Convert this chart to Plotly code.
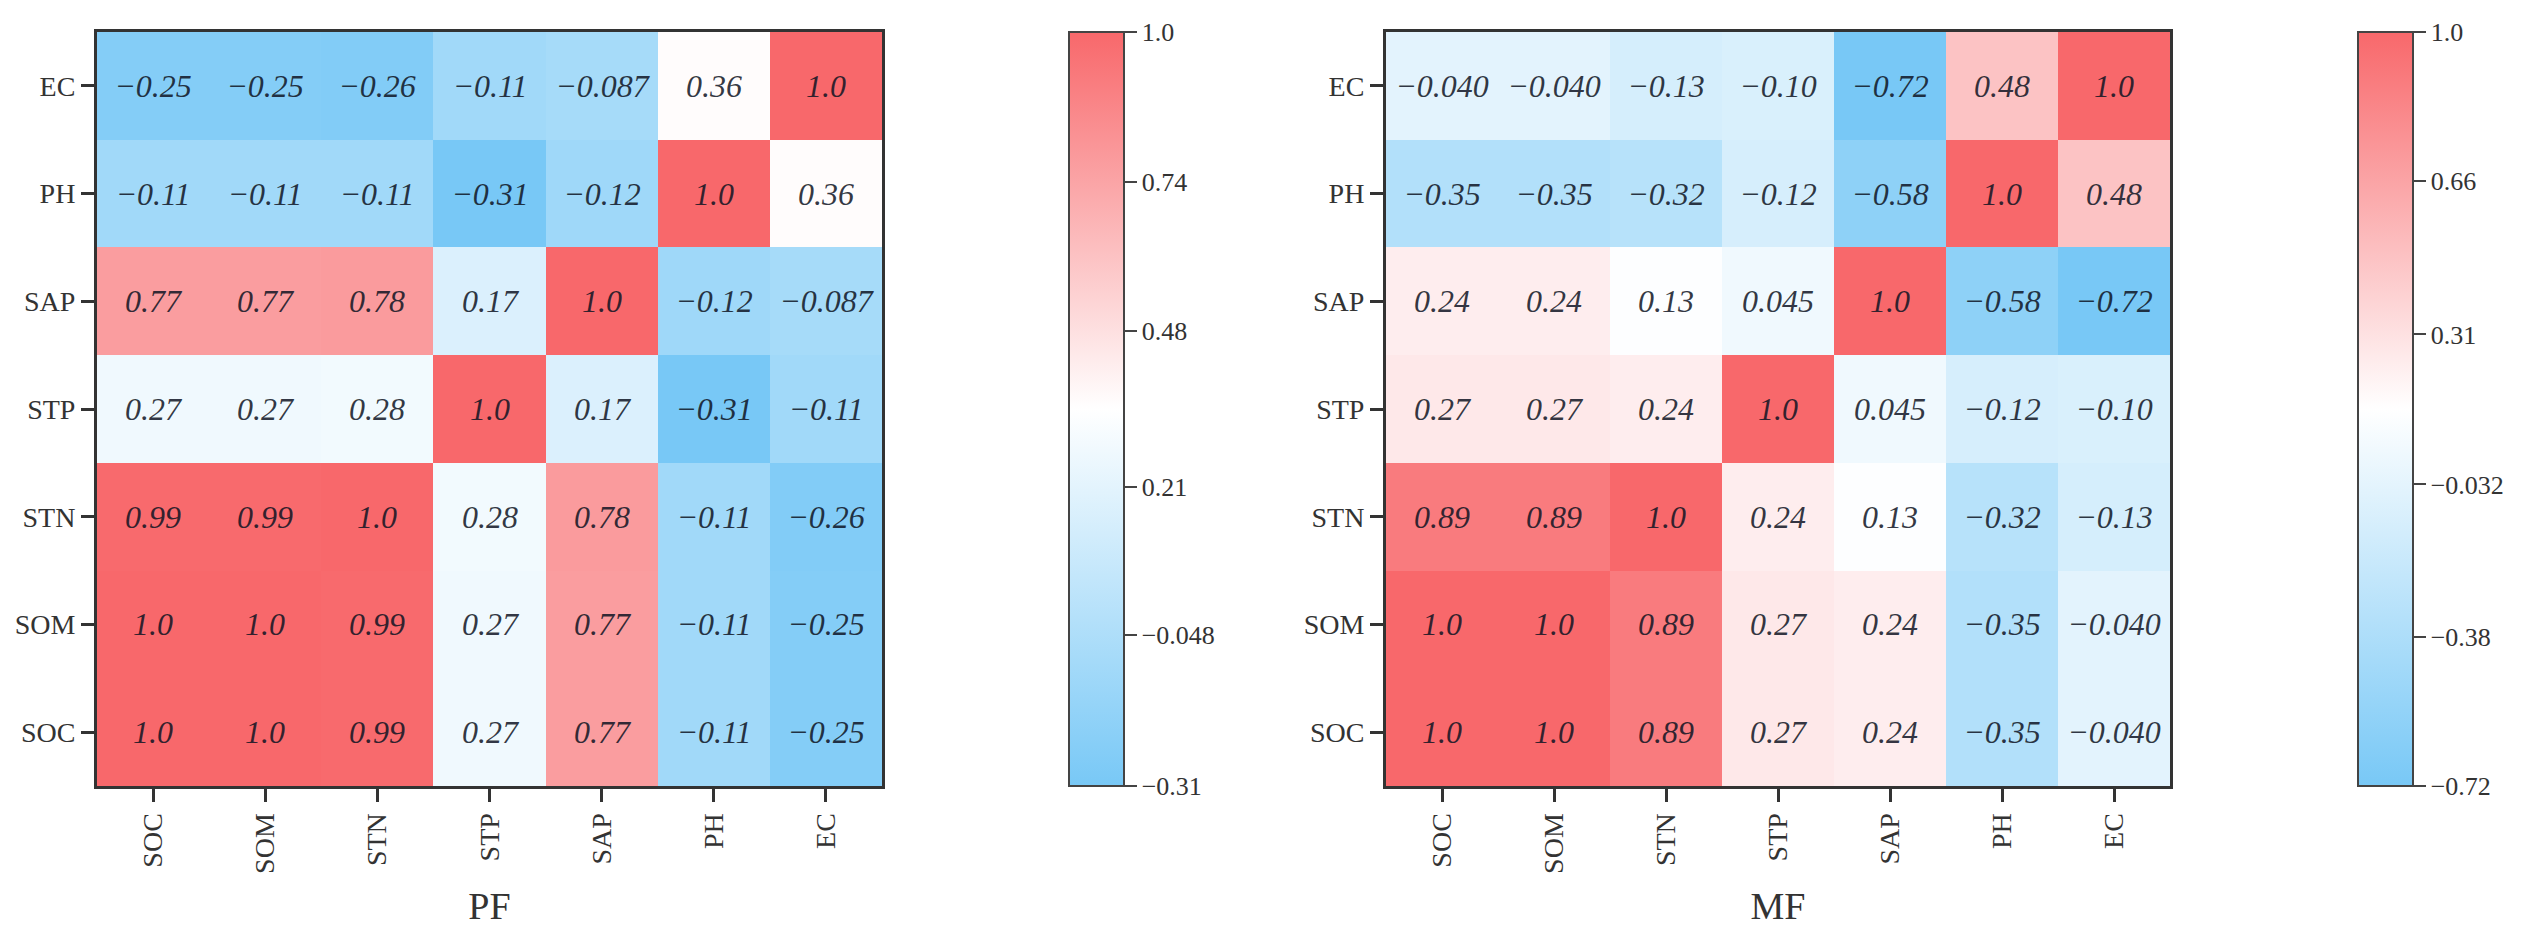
import plotly.graph_objects as go

# variables, listed bottom-to-top on y and left-to-right on x
variables = ["SOC", "SOM", "STN", "STP", "SAP", "PH", "EC"]

# PF correlation matrix (rows follow `variables`)
pf_soc = [1.0, 1.0, 0.99, 0.27, 0.77, -0.11, -0.25]
pf_som = [1.0, 1.0, 0.99, 0.27, 0.77, -0.11, -0.25]
pf_stn = [0.99, 0.99, 1.0, 0.28, 0.78, -0.11, -0.26]
pf_stp = [0.27, 0.27, 0.28, 1.0, 0.17, -0.31, -0.11]
pf_sap = [0.77, 0.77, 0.78, 0.17, 1.0, -0.12, -0.087]
pf_ph = [-0.11, -0.11, -0.11, -0.31, -0.12, 1.0, 0.36]
pf_ec = [-0.25, -0.25, -0.26, -0.11, -0.087, 0.36, 1.0]

# MF correlation matrix
mf_soc = [1.0, 1.0, 0.89, 0.27, 0.24, -0.35, -0.040]
mf_som = [1.0, 1.0, 0.89, 0.27, 0.24, -0.35, -0.040]
mf_stn = [0.89, 0.89, 1.0, 0.24, 0.13, -0.32, -0.13]
mf_stp = [0.27, 0.27, 0.24, 1.0, 0.045, -0.12, -0.10]
mf_sap = [0.24, 0.24, 0.13, 0.045, 1.0, -0.58, -0.72]
mf_ph = [-0.35, -0.35, -0.32, -0.12, -0.58, 1.0, 0.48]
mf_ec = [-0.040, -0.040, -0.13, -0.10, -0.72, 0.48, 1.0]

# colorbar tick labels
pf_cbar_ticks = [-0.31, -0.048, 0.21, 0.48, 0.74, 1.0]
mf_cbar_ticks = [-0.72, -0.38, -0.032, 0.31, 0.66, 1.0]

pf = [pf_soc, pf_som, pf_stn, pf_stp, pf_sap, pf_ph, pf_ec]
mf = [mf_soc, mf_som, mf_stn, mf_stp, mf_sap, mf_ph, mf_ec]

colorscale = [[0.0, "#78C8F6"], [0.5, "#FFFFFF"], [1.0, "#F8686B"]]
serif = "Liberation Serif"
W, H = 2524, 939


def fmt(v):
    return format(v, "#.2g").replace("-", "\u2212")


def make_heatmap(z, ticks, xaxis, yaxis, cbar_x):
    zmin = min(min(r) for r in z)
    zmax = max(max(r) for r in z)
    return go.Heatmap(
        z=z,
        x=variables,
        y=variables,
        xaxis=xaxis,
        yaxis=yaxis,
        text=[[fmt(v) for v in r] for r in z],
        texttemplate="%{text}",
        textfont=dict(family=serif, size=32, color="rgba(15,20,35,0.85)", style="italic"),
        colorscale=colorscale,
        zmin=zmin,
        zmax=zmax,
        colorbar=dict(
            x=cbar_x,
            xanchor="left",
            y=161 / H,
            yanchor="bottom",
            len=(915 - 161) / H,
            lenmode="fraction",
            thickness=55,
            xpad=0,
            ypad=0,
            outlinewidth=2,
            outlinecolor="#444",
            tickvals=ticks,
            ticktext=[fmt(t) for t in ticks],
            ticks="outside",
            ticklen=12,
            tickwidth=2,
            tickcolor="#444",
            tickfont=dict(family=serif, size=26, color="#333"),
        ),
        hoverongaps=False,
    )


fig = go.Figure()
fig.add_trace(make_heatmap(pf, pf_cbar_ticks, "x", "y", 1061 / W))
fig.add_trace(make_heatmap(mf, mf_cbar_ticks, "x2", "y2", 2350 / W))

axis_style = dict(
    type="category",
    showline=True,
    mirror=True,
    linecolor="#333",
    linewidth=3,
    ticks="outside",
    ticklen=13,
    tickwidth=3,
    tickcolor="#333",
    tickfont=dict(family=serif, size=28, color="#333"),
    showgrid=False,
    zeroline=False,
)

title_font = dict(family=serif, size=38, color="#333")
ydom = [161 / H, 915 / H]
fig.update_layout(
    width=W,
    height=H,
    margin=dict(l=0, r=0, t=0, b=0),
    paper_bgcolor="white",
    plot_bgcolor="white",
    xaxis=dict(axis_style, domain=[89 / W, 874 / W], anchor="y", tickangle=-90,
               title=dict(text="PF", font=title_font, standoff=20)),
    yaxis=dict(axis_style, domain=ydom, anchor="x"),
    xaxis2=dict(axis_style, domain=[1378 / W, 2162 / W], anchor="y2", tickangle=-90,
                title=dict(text="MF", font=title_font, standoff=20)),
    yaxis2=dict(axis_style, domain=ydom, anchor="x2"),
)

fig.write_html("out.html")
